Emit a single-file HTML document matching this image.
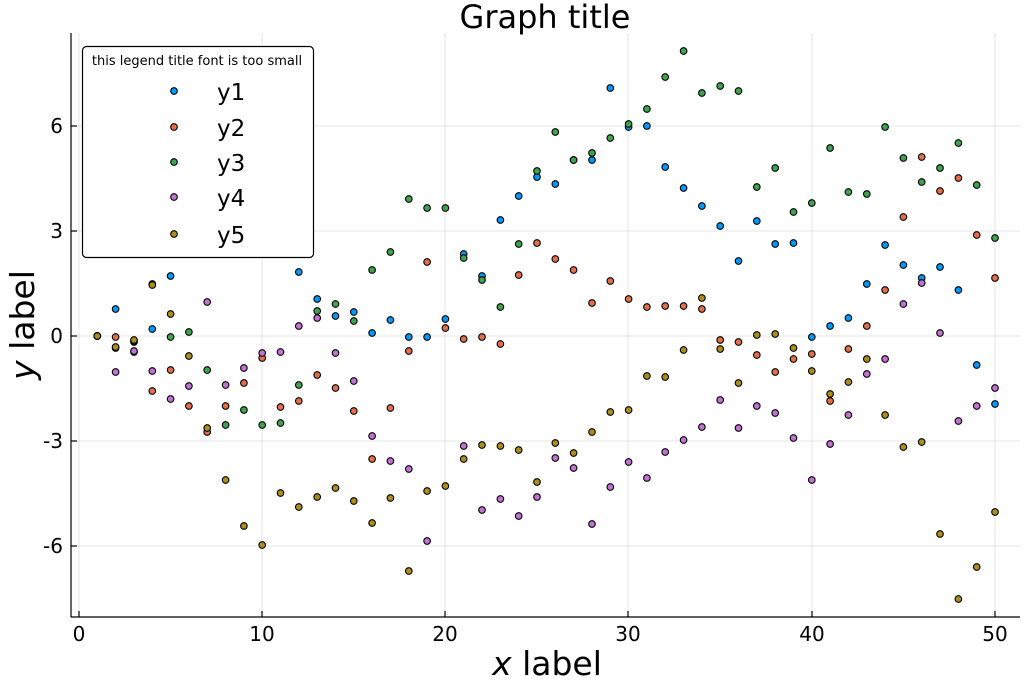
<!DOCTYPE html>
<html><head><meta charset="utf-8"><style>
html,body{margin:0;padding:0;background:#fff;width:1024px;height:682px;overflow:hidden}
svg{display:block;font-family:"DejaVu Sans","Liberation Sans",sans-serif}
</style></head><body>
<svg id="s" width="1024" height="682" viewBox="0 0 1024 682" xmlns="http://www.w3.org/2000/svg">
<rect width="1024" height="682" fill="#fff"/>
<g stroke="#000" stroke-opacity="0.1" stroke-width="1">
<line x1="79" y1="33" x2="79" y2="617"/><line x1="262" y1="33" x2="262" y2="617"/><line x1="445" y1="33" x2="445" y2="617"/><line x1="628" y1="33" x2="628" y2="617"/><line x1="812" y1="33" x2="812" y2="617"/><line x1="995" y1="33" x2="995" y2="617"/>
<line x1="71" y1="126" x2="1020" y2="126"/><line x1="71" y1="231" x2="1020" y2="231"/><line x1="71" y1="336" x2="1020" y2="336"/><line x1="71" y1="441" x2="1020" y2="441"/><line x1="71" y1="546" x2="1020" y2="546"/>
</g>
<g stroke="#000" stroke-width="1.2">
<line x1="71" y1="33" x2="71" y2="617"/><line x1="71" y1="617" x2="1020" y2="617"/>
<line x1="79" y1="617" x2="79" y2="611"/><line x1="262" y1="617" x2="262" y2="611"/><line x1="445" y1="617" x2="445" y2="611"/><line x1="628" y1="617" x2="628" y2="611"/><line x1="812" y1="617" x2="812" y2="611"/><line x1="995" y1="617" x2="995" y2="611"/>
<line x1="71" y1="126" x2="77" y2="126"/><line x1="71" y1="231" x2="77" y2="231"/><line x1="71" y1="336" x2="77" y2="336"/><line x1="71" y1="441" x2="77" y2="441"/><line x1="71" y1="546" x2="77" y2="546"/>
</g>
<g font-size="20" fill="#000" text-anchor="middle">
<text x="79" y="641">0</text><text x="262" y="641">10</text><text x="445" y="641">20</text><text x="628" y="641">30</text><text x="812" y="641">40</text><text x="995" y="641">50</text>
</g>
<g font-size="20" fill="#000" text-anchor="end">
<text x="63" y="133">6</text><text x="63" y="238">3</text><text x="63" y="343">0</text><text x="63" y="448">-3</text><text x="63" y="553">-6</text>
</g>
<text x="545" y="28" font-size="32" text-anchor="middle">Graph title</text>
<text x="547" y="675" font-size="33" text-anchor="middle"><tspan font-style="italic">x</tspan> label</text>
<text transform="translate(34,325) rotate(-90)" font-size="33" text-anchor="middle"><tspan font-style="italic">y</tspan> label</text>
<g id="pts" stroke="#000" stroke-width="1.1"></g>
<rect x="82.5" y="46.5" width="231" height="211" rx="4" fill="#fff" stroke="#000" stroke-width="1.2"/>
<text x="197" y="65" font-size="13" text-anchor="middle">this legend title font is too small</text>
<g stroke="#000" stroke-width="1.1">
<circle cx="174" cy="91" r="3.3" fill="#009AFA"/><circle cx="174" cy="127" r="3.3" fill="#E36F47"/><circle cx="174" cy="162" r="3.3" fill="#3EA44E"/><circle cx="174" cy="197" r="3.3" fill="#C371D2"/><circle cx="174" cy="234" r="3.3" fill="#AC8E18"/>
</g>
<g font-size="23">
<text x="217" y="100">y1</text><text x="217" y="136">y2</text><text x="217" y="171">y3</text><text x="217" y="206">y4</text><text x="217" y="243">y5</text>
</g>
</svg>
<script>
var cols=["#009AFA","#E36F47","#3EA44E","#C371D2","#AC8E18"];
var d={
1:[336,336,336,336,336],2:[309,337,348,372,347],3:[342,341,352,351,340],4:[329,391,284,371,285],5:[276,370,337,399,314],
6:[null,406,332,386,356],7:[null,432,370,302,428],8:[null,406,425,385,480],9:[null,383,410,368,526],10:[null,358,425,353,545],
11:[null,407,423,352,493],12:[272,401,385,326,507],13:[299,375,311,318,497],14:[316,388,304,353,488],15:[312,411,321,381,501],
16:[333,459,270,436,523],17:[320,408,252,461,498],18:[337,351,199,469,571],19:[337,262,208,541,491],20:[319,328,208,null,486],
21:[254,339,258,446,459],22:[276,337,280,510,445],23:[220,344,307,499,446],24:[196,275,244,516,450],25:[177,243,171,497,482],
26:[184,259,132,458,443],27:[160,270,160,468,453],28:[160,303,153,524,432],29:[88,281,138,487,412],30:[127,299,124,462,410],
31:[126,307,109,478,376],32:[167,306,77,452,377],33:[188,306,51,440,350],34:[206,309,93,427,298],35:[226,340,86,400,349],
36:[261,342,91,428,383],37:[221,355,187,406,335],38:[244,372,168,413,334],39:[243,359,212,438,348],40:[337,354,203,480,371],
41:[326,401,148,444,394],42:[318,349,192,415,382],43:[284,326,194,374,359],44:[245,290,127,359,415],45:[265,217,158,304,447],
46:[278,157,182,283,442],47:[267,191,168,333,534],48:[290,178,143,421,599],49:[365,235,185,406,567],50:[404,278,238,388,512]};
var g=document.getElementById("pts"),h="";
for(var s=0;s<5;s++){for(var i=1;i<=50;i++){var y=d[i][s];if(y==null)continue;var x=79+18.32*i;
h+='<circle cx="'+x.toFixed(1)+'" cy="'+y+'" r="3.3" fill="'+cols[s]+'"/>';}}
g.innerHTML=h;
</script>
</body></html>
